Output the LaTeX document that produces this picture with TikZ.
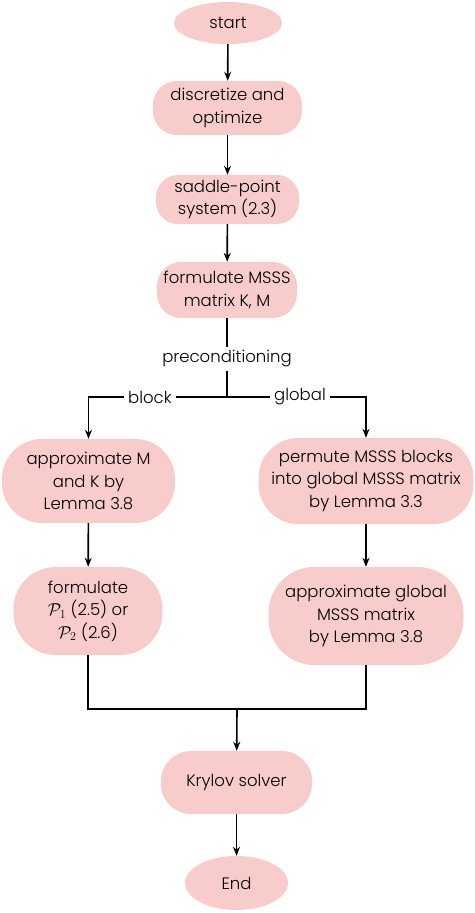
\documentclass[tikz,border=0pt]{standalone}
\usepackage{fontspec}
\setmainfont{Poppins}[UprightFont=* Light]
\usetikzlibrary{arrows.meta,shapes.geometric}
\definecolor{boxpink}{RGB}{249,204,204}
\begin{document}
\begin{tikzpicture}[x=1pt,y=-1pt,
  every node/.style={font=\fontsize{16.5}{22.5}\selectfont, inner sep=0pt, align=center},
  pill/.style={fill=boxpink, draw=none},
  oval/.style={ellipse, fill=boxpink, draw=none},
  lbl/.style={fill=white, inner xsep=4pt, inner ysep=3pt},
  conn/.style={line width=1.6pt, draw=black},
  arr/.style={conn, -{Stealth[length=9pt,width=7pt]}}]
\useasboundingbox (0,0) rectangle (474,913);
\node[oval, minimum width=108, minimum height=42] (st) at (228,23) {start};
\node[pill, rounded corners=24, minimum width=149, minimum height=54] (dc) at (227.5,108) {discretize and\\optimize};
\node[pill, rounded corners=22, minimum width=143, minimum height=49] (sp) at (227.5,199.5) {saddle-point\\system (2.3)};
\node[pill, rounded corners=24, minimum width=140, minimum height=56] (fm) at (227,290) {formulate MSSS\\matrix K, M};
\node[lbl] (pc) at (227,359) {preconditioning};
\coordinate (jn) at (227,397);
\node[lbl] (bl) at (150,397) {block};
\node[lbl] (gl) at (300,397) {global};
\node[pill, rounded corners=40, minimum width=173, minimum height=84] (am) at (88.5,481) {approximate M\\and K by\\Lemma 3.8};
\node[pill, rounded corners=40, minimum width=215, minimum height=86] (pm) at (366,481) {permute MSSS blocks\\into global MSSS matrix\\by Lemma 3.3};
\node[pill, rounded corners=42, minimum width=149, minimum height=88] (fp) at (88,611) {formulate\\$\mathcal{P}_1$ (2.5) or\\$\mathcal{P}_2$ (2.6)};
\node[pill, rounded corners=46, minimum width=195, minimum height=98] (ag) at (366,616) {approximate global\\MSSS matrix\\by Lemma 3.8};
\coordinate (mg) at (237,709);
\node[pill, rounded corners=30, minimum width=151, minimum height=63] (kr) at (236.5,782.5) {Krylov solver};
\node[oval, minimum width=103, minimum height=54] (en) at (236.5,883) {End};
\draw[arr] (st) -- (dc);
\draw[arr] (dc) -- (sp);
\draw[arr] (sp) -- (fm);
\draw[conn] (fm) -- (pc);
\draw[conn] (pc) -- (jn);
\draw[conn] (jn) -- (bl);
\draw[arr] (bl) -| (am);
\draw[conn] (jn) -- (gl);
\draw[arr] (gl) -| (pm);
\draw[arr] (am) -- (fp);
\draw[arr] (pm) -- (ag);
\draw[conn] (fp) |- (mg) -| (ag);
\draw[arr] (mg) -- (kr);
\draw[arr] (kr) -- (en);
\end{tikzpicture}
\end{document}
